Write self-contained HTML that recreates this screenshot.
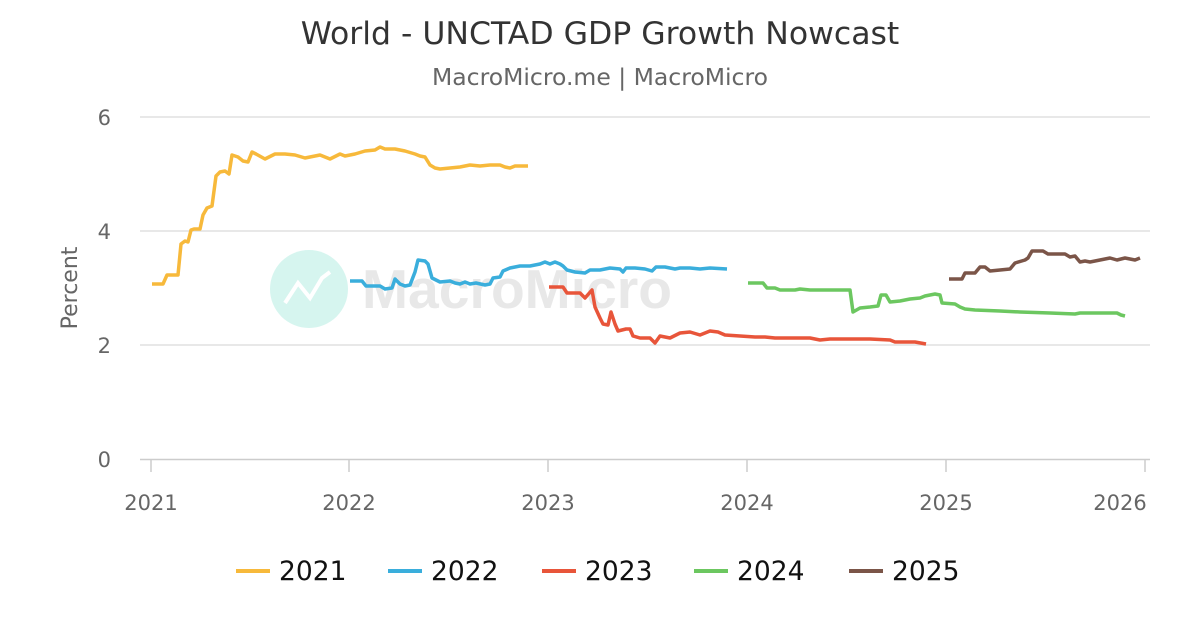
<!DOCTYPE html><html><head><style>body{margin:0;background:#fff}svg{display:block;font-family:"DejaVu Sans","Liberation Sans",sans-serif}</style></head><body>
<svg width="1200" height="630" viewBox="0 0 1200 630">
<text x="600" y="44" text-anchor="middle" font-size="31.5" fill="#333">World - UNCTAD GDP Growth Nowcast</text>
<text x="600" y="85" text-anchor="middle" font-size="23.5" fill="#666">MacroMicro.me | MacroMicro</text>
<g stroke="#e0e0e0" stroke-width="1.5"><line x1="140" x2="1150" y1="117" y2="117"/><line x1="140" x2="1150" y1="231" y2="231"/><line x1="140" x2="1150" y1="345" y2="345"/></g>
<line x1="140" x2="1150" y1="459.5" y2="459.5" stroke="#ccc" stroke-width="1.5"/>
<g stroke="#ccc" stroke-width="1.5"><line x1="151" x2="151" y1="460" y2="472"/><line x1="349" x2="349" y1="460" y2="472"/><line x1="548" x2="548" y1="460" y2="472"/><line x1="747" x2="747" y1="460" y2="472"/><line x1="946" x2="946" y1="460" y2="472"/><line x1="1145" x2="1145" y1="460" y2="472"/></g>
<g font-size="21" fill="#666" text-anchor="end"><text x="111" y="125">6</text><text x="111" y="239">4</text><text x="111" y="353">2</text><text x="111" y="467">0</text></g>
<g font-size="21" fill="#666" text-anchor="middle"><text x="151" y="510">2021</text><text x="349" y="510">2022</text><text x="548" y="510">2023</text><text x="747" y="510">2024</text><text x="946" y="510">2025</text><text x="1120" y="510">2026</text></g>
<text transform="translate(77,288) rotate(-90)" text-anchor="middle" font-size="22" fill="#666">Percent</text>
<circle cx="309" cy="289" r="39" fill="#d6f5ef"/>
<polyline points="285,303 298,283 310,298 322,278 330,272" fill="none" stroke="#fff" stroke-width="4"/>
<text x="362" y="308" font-size="55" font-weight="bold" fill="#e8e8e8" font-family="Liberation Sans" textLength="310" lengthAdjust="spacingAndGlyphs">MacroMicro</text>
<g fill="none" stroke-width="3.5" stroke-linejoin="round">
<polyline stroke="#f7b93b" points="152,284 163,284 167,275 178,275 181,244 185,241 188,242 191,230 194,229 200,229 203,215 207,208 212,206 216,176 220,172 225,171 229,174 232,155 238,157 243,161 248,162 252,152 256,154 265,159 275,154 285,154 295,155 305,158 315,156 320,155 330,159 340,154 345,156 355,154 365,151 375,150 380,147 385,149 395,149 405,151 415,154 420,156 425,157 430,165 435,168 440,169 450,168 460,167 470,165 480,166 490,165 500,165 505,167 510,168 515,166 528,166"/>
<polyline stroke="#3aaedc" points="350,281 362,281 366,286 380,286 385,289 392,288 395,279 400,284 405,286 410,285 415,272 418,260 425,261 428,264 432,278 440,282 450,281 455,283 460,284 465,282 470,284 476,283 485,285 490,284 493,278 500,277 503,271 510,268 520,266 530,266 535,265 540,264 545,262 550,264 555,262 560,264 563,266 567,270 575,272 585,273 590,270 600,270 610,268 620,269 623,272 626,268 635,268 645,269 652,271 656,267 665,267 675,269 680,268 690,268 700,269 710,268 727,269"/>
<polyline stroke="#e8553a" points="549,287 563,287 567,293 580,293 585,298 592,290 595,307 600,318 603,324 608,325 611,312 615,324 618,331 626,329 630,329 633,336 640,338 650,338 655,343 660,336 670,338 680,333 690,332 700,335 710,331 718,332 725,335 740,336 755,337 765,337 775,338 790,338 810,338 820,340 830,339 850,339 870,339 890,340 895,342 915,342 926,344"/>
<polyline stroke="#6cc760" points="748,283 763,283 767,288 775,288 780,290 795,290 800,289 810,290 825,290 850,290 853,312 860,308 870,307 878,306 881,295 886,295 890,302 900,301 910,299 920,298 925,296 935,294 940,295 942,303 955,304 960,307 965,309 975,310 1000,311 1020,312 1050,313 1075,314 1080,313 1117,313 1121,315 1125,316"/>
<polyline stroke="#7b5548" points="949,279 962,279 965,273 975,273 980,267 985,267 990,271 1000,270 1010,269 1015,263 1025,260 1028,258 1032,251 1043,251 1048,254 1065,254 1070,257 1075,256 1080,262 1085,261 1090,262 1100,260 1110,258 1117,260 1125,258 1135,260 1140,258"/>
</g>
<g stroke-width="4"><line x1="236" x2="270" y1="571" y2="571" stroke="#f7b93b"/><line x1="388" x2="422" y1="571" y2="571" stroke="#3aaedc"/><line x1="542" x2="576" y1="571" y2="571" stroke="#e8553a"/><line x1="694" x2="728" y1="571" y2="571" stroke="#6cc760"/><line x1="849" x2="883" y1="571" y2="571" stroke="#7b5548"/></g>
<g font-size="26.5" fill="#111"><text x="279" y="580">2021</text><text x="431" y="580">2022</text><text x="585" y="580">2023</text><text x="737" y="580">2024</text><text x="892" y="580">2025</text></g>
</svg></body></html>
